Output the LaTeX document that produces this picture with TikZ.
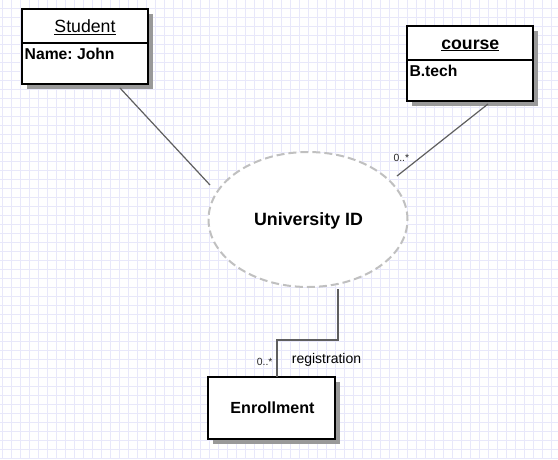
\documentclass[tikz,border=0pt]{standalone}
\usepackage{fontspec}
\setmainfont{Liberation Sans}
\frenchspacing
\usetikzlibrary{shapes.geometric,shadows,calc}
\definecolor{gridc}{RGB}{232,232,250}
\definecolor{connc}{RGB}{95,95,95}
\definecolor{dashc}{RGB}{192,192,192}
\definecolor{multc}{RGB}{40,40,40}
\begin{document}
\begin{tikzpicture}[x=1pt,y=-1pt,
  gridline/.style={draw=gridc,line width=0.9pt},
  classbox/.style={draw=black,line width=2pt,fill=white,rectangle,inner sep=0pt,outer sep=0pt,
    drop shadow={shadow xshift=4.5pt,shadow yshift=-4.5pt,fill=black!40,opacity=1}},
  divider/.style={draw=black,line width=1.5pt},
  titletxt/.style={inner sep=0pt,anchor=base,font=\fontsize{17.7}{20}\selectfont},
  attrtxt/.style={inner sep=0pt,anchor=base west,font=\fontsize{15.7}{18}\selectfont\bfseries},
  entity/.style={ellipse,draw=dashc,line width=2pt,dash pattern=on 8pt off 4pt,fill=white,inner sep=0pt,outer sep=0pt},
  conn/.style={draw=connc,line width=1.2pt},
  mult/.style={inner sep=0pt,anchor=base west,text=multc,font=\fontsize{10.4}{12}\selectfont},
  reltxt/.style={inner sep=0pt,anchor=base west,font=\fontsize{14}{16}\selectfont}
]
\useasboundingbox (0,0) rectangle (558,459);
\fill[white] (0,0) rectangle (558,459);
% grid
\foreach \i in {0,...,61} \draw[gridline] ({2.5+9*\i},0) -- ({2.5+9*\i},459);
\foreach \j in {0,...,50} \draw[gridline] (0,{8+9*\j}) -- (558,{8+9*\j});

% Student class
\node[classbox,minimum width=126pt,minimum height=75pt] (student) at (85,46.5) {};
\draw[divider] ($(student.north west)+(0,34)$) -- ($(student.north east)+(0,34)$);
\node[titletxt] (studentT) at (85,32.3) {\underline{Student}};
\node[attrtxt] (studentA) at (24.5,59) {Name: John};

% course class
\node[classbox,minimum width=126pt,minimum height=75pt] (course) at (470,63.5) {};
\draw[divider] ($(course.north west)+(0,34)$) -- ($(course.north east)+(0,34)$);
\node[titletxt,font=\fontsize{17.7}{20}\selectfont\bfseries] (courseT) at (470.3,49) {\underline{course}};
\node[attrtxt] (courseA) at (409.3,76.7) {B.tech};

% University ID
\node[entity,minimum width=199pt,minimum height=135pt] (uid) at (308,219.5) {};
\node[inner sep=0pt,anchor=base,font=\fontsize{17.8}{20}\selectfont\bfseries] (uidT) at (308.5,225.7) {University ID};

% Enrollment
\node[classbox,minimum width=127pt,minimum height=62pt] (enroll) at (271.5,408) {};
\node[inner sep=0pt,anchor=base,font=\fontsize{16.1}{18}\selectfont\bfseries] (enrollT) at (272.5,413.3) {Enrollment};

% connectors
\draw[conn] ($(student.south)+(35,4)$) -- ($(uid.center)+(-98,-34.5)$);
\draw[conn] ($(course.south)+(18,3)$) -- ($(uid.center)+(89,-43.5)$);
\draw[conn] ($(uid.south)+(30,2)$) -- ++(0,51) -| ($(enroll.north)+(5.5,0)$);

% labels
\node[mult] (m1) at (393.3,161.7) {0..*};
\node[mult] (m2) at (256.7,365) {0..*};
\node[reltxt] (reg) at (291.7,363.3) {registration};
\end{tikzpicture}
\end{document}
